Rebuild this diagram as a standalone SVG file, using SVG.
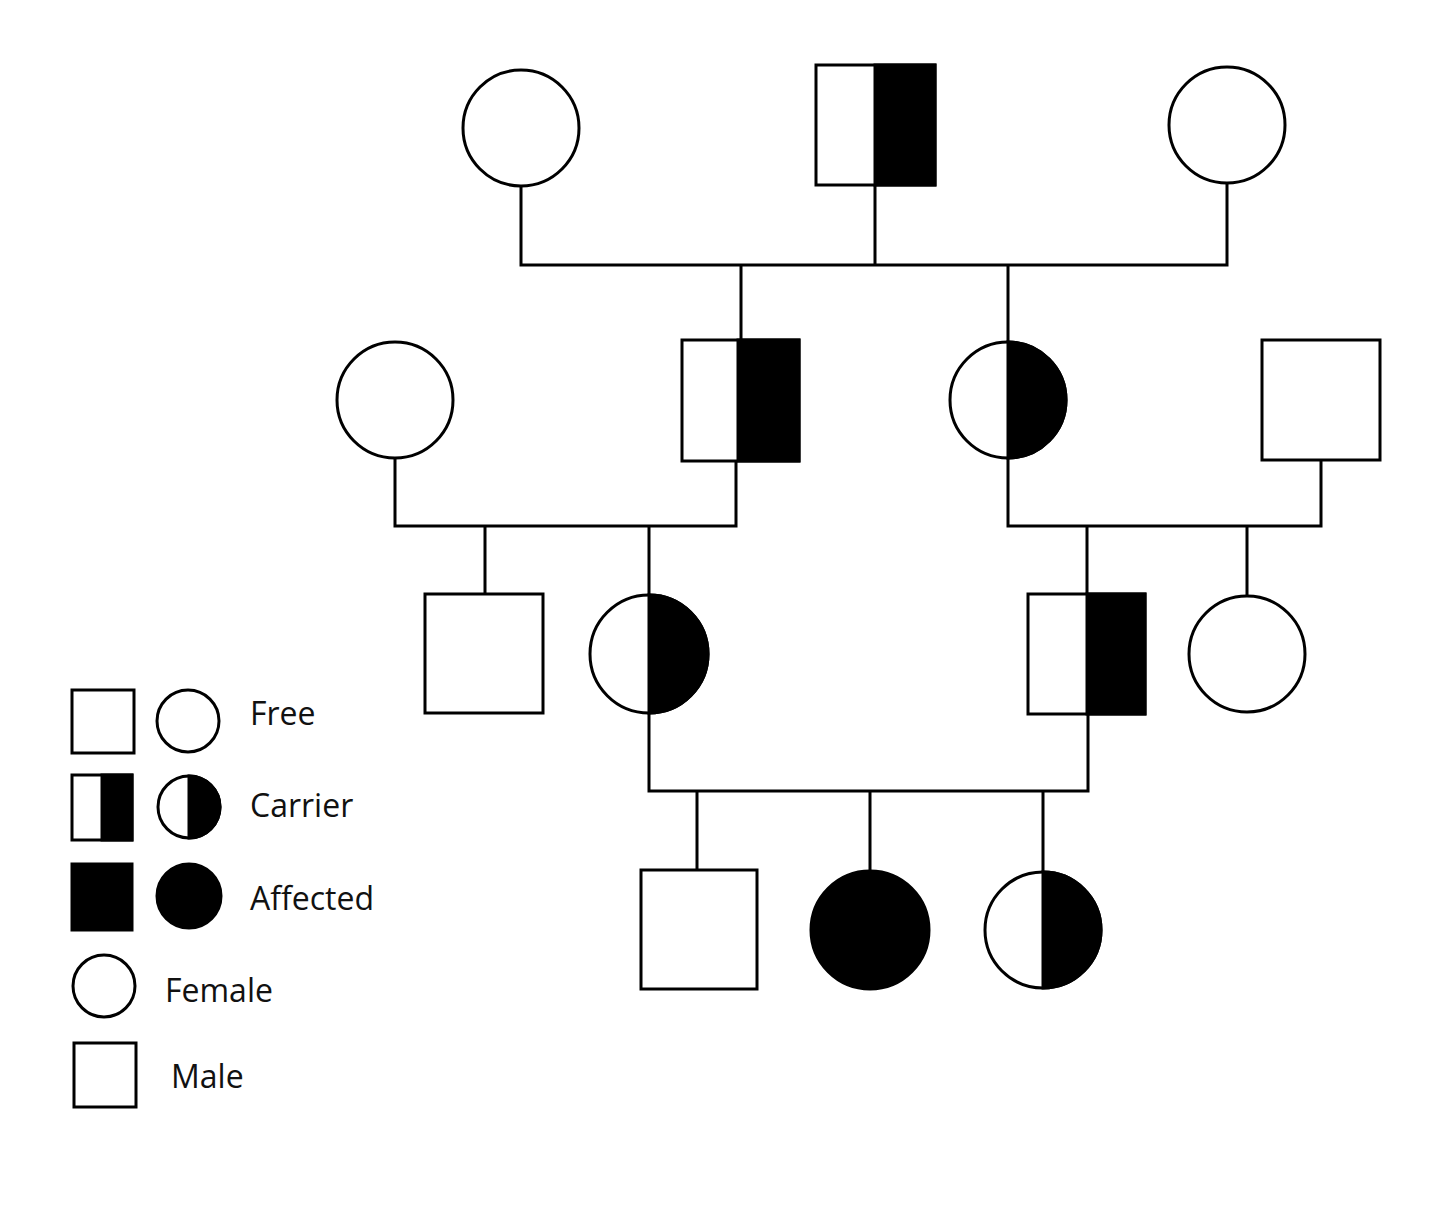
<svg xmlns="http://www.w3.org/2000/svg" width="1440" height="1211" viewBox="0 0 1440 1211">
<style>
.s{fill:#fff;stroke:#000;stroke-width:3}
.f{fill:#000;stroke:#000;stroke-width:3}
.l{fill:none;stroke:#000;stroke-width:3}
text{font-family:"Open Sans","Liberation Sans",sans-serif;font-size:32px;fill:#111}
</style>
<rect width="1440" height="1211" fill="#fff"/>
<g id="connectors">
<path class="l" d="M521 187V265H1227V183M875 185V265M741 265V340M1008 265V342"/>
<path class="l" d="M395 458V526H736V461M485 526V594M649 526V595"/>
<path class="l" d="M1008 458V526H1321V460M1087 526V594M1247 526V596"/>
<path class="l" d="M649 713V791H1088V714M697 791V870M870 791V871M1043 791V872"/>
</g>
<g id="g1f1"><circle class="s" cx="521" cy="128" r="58"/></g>
<g id="g1m"><rect class="s" x="816" y="65" width="119" height="120"/><rect class="f" x="875" y="65" width="60" height="120"/></g>
<g id="g1f2"><circle class="s" cx="1227" cy="125" r="58"/></g>
<g id="g2f1"><circle class="s" cx="395" cy="400" r="58"/></g>
<g id="g2m1"><rect class="s" x="682" y="340" width="117" height="121"/><rect class="f" x="738" y="340" width="61" height="121"/></g>
<g id="g2f2"><circle class="s" cx="1008" cy="400" r="58"/><path class="f" d="M1008 342A58 58 0 0 1 1008 458Z"/></g>
<g id="g2m2"><rect class="s" x="1262" y="340" width="118" height="120"/></g>
<g id="g3m1"><rect class="s" x="425" y="594" width="118" height="119"/></g>
<g id="g3f1"><circle class="s" cx="649" cy="654" r="59"/><path class="f" d="M649 595A59 59 0 0 1 649 713Z"/></g>
<g id="g3m2"><rect class="s" x="1028" y="594" width="117" height="120"/><rect class="f" x="1087" y="594" width="58" height="120"/></g>
<g id="g3f2"><circle class="s" cx="1247" cy="654" r="58"/></g>
<g id="g4m"><rect class="s" x="641" y="870" width="116" height="119"/></g>
<g id="g4f1"><circle class="f" cx="870" cy="930" r="59"/></g>
<g id="g4f2"><circle class="s" cx="1043" cy="930" r="58"/><path class="f" d="M1043 872A58 58 0 0 1 1043 988Z"/></g>
<g id="legend">
<rect class="s" x="72" y="690" width="62" height="63"/><circle class="s" cx="188" cy="721" r="31"/><text x="250" y="725">Free</text>
<rect class="s" x="72" y="775" width="60" height="65"/><rect class="f" x="102" y="775" width="30" height="65"/><circle class="s" cx="189" cy="807" r="31"/><path class="f" d="M189 776A31 31 0 0 1 189 838Z"/><text x="250" y="817">Carrier</text>
<rect class="f" x="72" y="864" width="60" height="66"/><circle class="f" cx="189" cy="896" r="32"/><text x="250" y="910">Affected</text>
<circle class="s" cx="104" cy="986" r="31"/><text x="165" y="1002">Female</text>
<rect class="s" x="74" y="1043" width="62" height="64"/><text x="171" y="1088">Male</text>
</g>
</svg>
